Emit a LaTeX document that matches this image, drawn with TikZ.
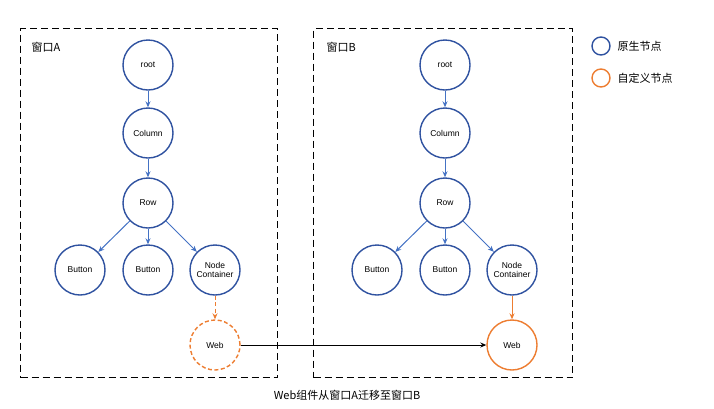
\documentclass[tikz,border=0pt]{standalone}
\usepackage{fontspec}
\setmainfont{Liberation Sans}
\newfontfamily\cjk{Noto Sans CJK SC}
\usetikzlibrary{arrows.meta}
\definecolor{nb}{HTML}{2F52A0}
\definecolor{ab}{HTML}{4472C4}
\definecolor{og}{HTML}{ED7D31}
\begin{document}
\begin{tikzpicture}[x=1pt,y=-1pt,
 nd/.style={circle,draw=nb,line width=1.4pt,minimum size=50pt,inner sep=0pt,font=\fontsize{8.5}{9.5}\selectfont,align=center},
 wb/.style={nd,draw=og},
 ar/.style={-{Stealth[length=6pt,width=5pt]},draw=ab,line width=1pt},
 box/.style={draw,line width=1.3pt,dash pattern=on 7pt off 4pt}]
\useasboundingbox (0,0) rectangle (714,408);
\node[box,minimum width=257pt,minimum height=349pt,anchor=north west] (ba) at (20,28) {};
\node[box,minimum width=259pt,minimum height=349pt,anchor=north west] (bb) at (313,28) {};
\node[font=\cjk\fontsize{11}{13}\selectfont,anchor=west] (la) at (28,47) {窗口A};
\node[font=\cjk\fontsize{11}{13}\selectfont,anchor=west] (lb) at (323,47) {窗口B};
\foreach \p/\x in {a/148,b/445}{
 \node[nd] (root\p) at (\x,65) {root};
 \node[nd] (col\p) at (\x,133) {Column};
 \node[nd] (row\p) at (\x,203) {Row};
 \node[nd] (bt1\p) at (\x-68,270) {Button};
 \node[nd] (bt2\p) at (\x,270) {Button};
 \node[nd] (nc\p) at (\x+67,270) {Node\\[-1pt]Container};
 \draw[ar] (root\p) -- (col\p);
 \draw[ar] (col\p) -- (row\p);
 \draw[ar] (row\p) -- (bt1\p);
 \draw[ar] (row\p) -- (bt2\p);
 \draw[ar] (row\p) -- (nc\p);
}
\node[wb,dash pattern=on 4pt off 2.5pt] (weba) at (215,345) {Web};
\node[wb] (webb) at (512,345) {Web};
\draw[ar,draw=og,dash pattern=on 4pt off 2.5pt] (nca) -- (weba);
\draw[ar,draw=og] (ncb) -- (webb);
\draw[-{Stealth[length=6pt,width=5pt]},line width=1pt] (weba) -- (webb);
\node[circle,draw=nb,line width=1.4pt,minimum size=18pt,inner sep=0pt] (lg1) at (601,46) {};
\node[circle,draw=og,line width=1.4pt,minimum size=18pt,inner sep=0pt] (lg2) at (601,78) {};
\node[font=\cjk\fontsize{11}{13}\selectfont,anchor=west] (t1) at (614,46) {原生节点};
\node[font=\cjk\fontsize{11}{13}\selectfont,anchor=west] (t2) at (614,78) {自定义节点};
\node[font=\cjk\fontsize{11}{13}\selectfont] (cap) at (347,395) {Web组件从窗口A迁移至窗口B};
\end{tikzpicture}
\end{document}
